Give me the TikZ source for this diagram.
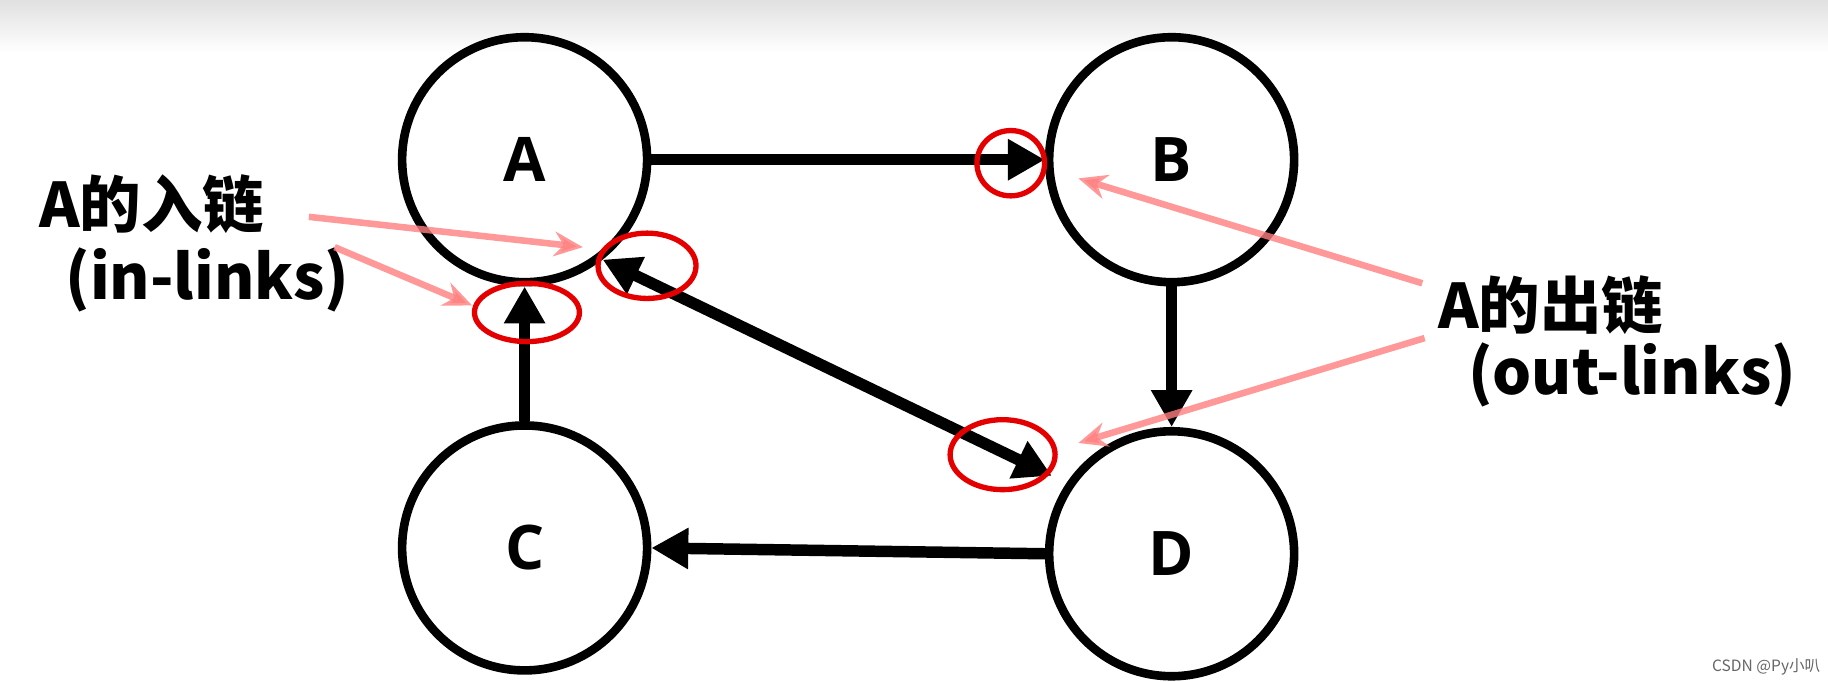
\documentclass[tikz,border=0pt]{standalone}
\usepackage{fontspec}
\setmainfont{Open Sans}
\newfontfamily\cjk{Noto Sans CJK SC}
\usetikzlibrary{arrows.meta,shapes.geometric}
\begin{document}
\begin{tikzpicture}[x=0.01cm,y=-0.01cm,
  nd/.style={circle,draw,line width=2.1pt,minimum size=2.1cm,font=\fontsize{15}{18}\selectfont\bfseries},
  ar/.style={line width=2.8pt,-{Triangle[length=9pt,width=9.5pt]}},
  hl/.style={draw=red!90!black,line width=1.3pt,ellipse,inner sep=0pt},
  pk/.style={draw=red!50,line width=1.6pt,opacity=.8,-{Stealth[length=7pt,width=6pt]}},
  lb/.style={font=\cjk\fontsize{15}{18}\selectfont\bfseries,align=left}]
\useasboundingbox (0,0) rectangle (1568,585);
\shade[top color=black!12,bottom color=white] (0,0) rectangle (1568,45);
\node[nd] (A) at (450,137) {A};
\node[nd] (B) at (1005,137) {B};
\node[nd] (C) at (450,470) {C};
\node[nd] (D) at (1005,475) {D};
\draw[ar] (A.east) -- (B.west);
\draw[ar] (B.south) -- (D.north);
\draw[ar] (C.north) -- (A.south);
\draw[ar] (D.west) -- (C.east);
\draw[line width=2.8pt,{Triangle[length=9pt,width=9.5pt]}-{Triangle[length=9pt,width=9.5pt]},shorten >=4pt] (A.-52) -- (D.146);
\node[hl,minimum width=0.58cm,minimum height=0.56cm] (h1) at (867,140) {};
\node[hl,minimum width=0.9cm,minimum height=0.5cm] (h2) at (452,268) {};
\node[hl,minimum width=0.84cm,minimum height=0.56cm] (h3) at (555,228) {};
\node[hl,minimum width=0.9cm,minimum height=0.6cm] (h4) at (860,390) {};
\node[lb] (in1) at (130,175) {A的入链};
\node[lb] (in2) at (178,240) {(in-links)};
\node[lb] (out1) at (1330,262) {A的出链};
\node[lb] (out2) at (1400,322) {(out-links)};
\coordinate (p1) at (265,186); \coordinate (q1) at (500,212);
\coordinate (p2) at (287,212); \coordinate (q2) at (405,262);
\coordinate (p3) at (1220,243); \coordinate (q3) at (925,153);
\coordinate (p4) at (1222,290); \coordinate (q4) at (925,380);
\draw[pk] (p1) -- (q1);
\draw[pk] (p2) -- (q2);
\draw[pk] (p3) -- (q3);
\draw[pk] (p4) -- (q4);
\node[font=\cjk\fontsize{3.8}{4.5}\selectfont,text=black!60] (wm) at (1515,572) {CSDN @Py小叭};
\end{tikzpicture}
\end{document}
